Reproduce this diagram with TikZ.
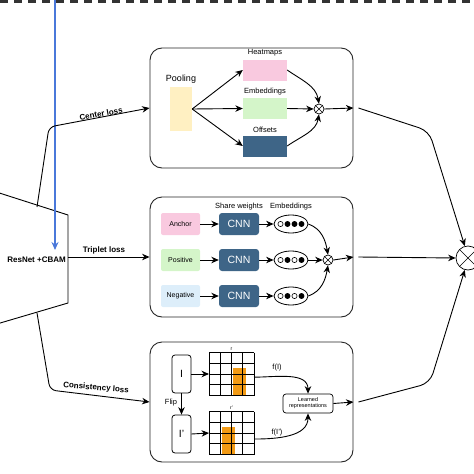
\documentclass[tikz,border=0pt]{standalone}
\usepackage{fontspec}
\setmainfont{Liberation Sans}
\usetikzlibrary{arrows.meta,calc,positioning,shapes.geometric}
\definecolor{inblue}{HTML}{4A78DA}
\definecolor{poolyellow}{HTML}{FFF0C2}
\definecolor{heatpink}{HTML}{F9C9DF}
\definecolor{embgreen}{HTML}{D4F5C9}
\definecolor{negblue}{HTML}{DDEEFA}
\definecolor{cnnblue}{HTML}{3E6587}
\definecolor{maporange}{HTML}{F29A14}
\tikzstyle{panel} = [draw=black!85, line width=0.9pt, rounded corners=12pt, minimum width=203pt, minimum height=120pt]
\tikzstyle{feat} = [inner sep=0, minimum width=44pt, minimum height=21pt]
\tikzstyle{inbox} = [inner sep=0, rounded corners=2pt, minimum width=39pt, minimum height=22pt, font=\fontsize{7}{8}\selectfont]
\tikzstyle{cnn} = [inner sep=0, rounded corners=3pt, fill=cnnblue, text=white, minimum width=40pt, minimum height=22pt, font=\fontsize{10.5}{11}\selectfont]
\tikzstyle{embell} = [ellipse, draw, line width=0.8pt, inner sep=0, minimum width=34pt, minimum height=18pt]
\tikzstyle{imgbox} = [draw, line width=0.8pt, rounded corners=3pt, inner sep=0, minimum width=19pt, minimum height=38pt, font=\fontsize{10.5}{11}\selectfont]
\tikzstyle{gridbox} = [inner sep=0, outer sep=0, minimum width=45pt, minimum height=43pt]
\tikzstyle{lrbox} = [draw, line width=0.7pt, rounded corners=3pt, inner sep=1pt, minimum width=50pt, minimum height=19pt, align=center, font=\fontsize{5.5}{6}\selectfont]
\tikzstyle{lbl} = [inner sep=0, font=\fontsize{7.5}{8}\selectfont]
\tikzstyle{losslbl} = [inner sep=0, font=\fontsize{8}{9}\selectfont\bfseries]
\tikzstyle{otimes} = [circle, draw, line width=0.7pt, inner sep=0, minimum size=10pt, path picture={\draw[line width=0.6pt] (path picture bounding box.north west)--(path picture bounding box.south east) (path picture bounding box.south west)--(path picture bounding box.north east);}]
\tikzstyle{arrow} = [line width=0.9pt,->,>={Stealth[length=7.5pt,width=6.5pt]}]

\begin{document}
\begin{tikzpicture}[x=1pt,y=-1pt]
\useasboundingbox (0,0) rectangle (474,474);
\clip (0,0) rectangle (474,474);
% dashed rule at the top
\draw[black!80, line width=3pt, dash pattern=on 8pt off 6pt] (0,1.5) -- (474,1.5);
% backbone
\draw[line width=0.9pt] (-10,190) -- (68,215) -- (68,303) -- (-10,326);
\node (resnet) [losslbl, anchor=east] at (66,260) {ResNet +CBAM};
\coordinate (in0) at (55,-2);
\coordinate (in1) at (55,250);
\draw[inblue, line width=1.3pt, ->, >={Stealth[length=8pt,width=7pt]}] (in0) -- (in1);
% three branches
\node (cbox) [panel] at (251.5,108) {};
\node (tbox) [panel] at (251.5,257) {};
\node (sbox) [panel] at (251.5,402) {};
\node (sum) [otimes, minimum size=24pt] at (468,258) {};

\coordinate (cl) at (37,207);
\coordinate (tl) at (68,257);
\coordinate (sl) at (37,313);
\draw[arrow, rounded corners=6pt] (cl) -- (49,127) -- (cbox.west);
\node (clbl) [losslbl, rotate=10] at (101,114) {Center loss};
\draw[arrow] (tl) -- (tbox.west);
\node (tlbl) [losslbl] at (104,250) {Triplet loss};
\draw[arrow, rounded corners=6pt] (sl) -- (50,390) -- (sbox.west);
\node (slbl) [losslbl, rotate=-5] at (96,388) {Consistency loss};

%% center loss
\node (pool) [fill=poolyellow, inner sep=0, minimum width=22pt, minimum height=44pt] at (181,109) {};
\node (poollbl) [lbl, font=\fontsize{9}{10}\selectfont, above=3pt of pool] {Pooling};
\node (heat) [feat, fill=heatpink] at (265,70) {};
\node (heatlbl) [lbl, above=3pt of heat] {Heatmaps};
\node (emb) [feat, fill=embgreen] at (265,108.5) {};
\node (emblbl) [lbl, above=3pt of emb] {Embeddings};
\node (off) [feat, fill=cnnblue] at (265,146) {};
\node (offlbl) [lbl, above=3pt of off] {Offsets};
\node (mul1) [otimes] at (319,109) {};
\draw[arrow] (pool.east) -- (heat.west);
\draw[arrow] (pool.east) -- (emb.west);
\draw[arrow] (pool.east) -- (off.west);
\draw[arrow] (heat.east) to[out=-35,in=100] (mul1.north);
\draw[arrow] (emb.east) -- (mul1.west);
\draw[arrow] (off.east) to[out=35,in=-100] (mul1.south);
\draw[arrow] (mul1.east) -- (cbox.east);

%% triplet loss
\node (anc) [inbox, fill=heatpink] at (180.5,224) {Anchor};
\node (pos) [inbox, fill=embgreen] at (180.5,260) {Positive};
\node (neg) [inbox, fill=negblue] at (180.5,296) {Negative};
\node (cnnA) [cnn] at (239,224) {CNN};
\node (cnnP) [cnn] at (239,260) {CNN};
\node (cnnN) [cnn] at (239,296) {CNN};
\node (eA) [embell] at (291,224) {};
\node (eP) [embell] at (291,260) {};
\node (eN) [embell] at (291,296) {};
\node (sharelbl) [lbl, above=2.5pt of cnnA] {Share weights};
\node (embtlbl) [lbl] at (eA |- sharelbl) {Embeddings};
\foreach \e/\a/\b/\c/\d in {eA/white/black/black/black, eP/white/black/white/black, eN/white/black/white/black}
  \foreach \f [count=\i] in {\a,\b,\c,\d}
    \draw[line width=0.6pt, fill=\f] ($(\e.center)+(\i*7-17.5,0)$) circle (2.6);
\node (mul2) [otimes] at (328,260) {};
\foreach \r in {A,P,N}
  \draw[arrow] (cnn\r.east) -- (e\r.west);
\draw[arrow] (anc) -- (cnnA);
\draw[arrow] (pos) -- (cnnP);
\draw[arrow] (neg) -- (cnnN);
\draw[arrow] (eA.east) to[out=-20,in=100] (mul2.north);
\draw[arrow] (eP.east) -- (mul2.west);
\draw[arrow] (eN.east) to[out=20,in=-100] (mul2.south);
\draw[arrow] (mul2.east) -- (tbox.east);

%% consistency loss
\node (img) [imgbox] at (181.5,374) {I};
\node (imgf) [imgbox] at (181.5,434) {I'};
\draw[arrow] (img) -- (imgf);
\node (fliplbl) [lbl] at (171,403) {Flip};
\node (g1) [gridbox] at (231.5,374) {};
\node (g2) [gridbox] at (231.5,433) {};
\fill[maporange] ($(g1.north west)+(24,15)$) rectangle ($(g1.south west)+(37,-1)$);
\fill[maporange] ($(g2.north west)+(13,15)$) rectangle ($(g2.south west)+(26,0)$);
\foreach \g in {g1,g2}
  \foreach \k in {0,...,4} {
    \draw[line width=0.9pt] (\g.north west) ++(\k*11.25,0) -- ++(0,43);
    \draw[line width=0.9pt] (\g.north west) ++(0,\k*10.75) -- ++(45,0);
  }
\node (r1) [lbl, font=\fontsize{5}{6}\selectfont, above=2pt of g1] {r};
\node (r2) [lbl, font=\fontsize{5}{6}\selectfont, above=2pt of g2] {r'};
\draw[arrow] (img.east) -- (g1.west);
\draw[arrow] (imgf.east) -- (g2.west);
\node (lr) [lrbox] at (308,403.5) {Learned\\representations};
\draw[arrow] (g1.-8) to[out=0,in=90] (lr.north);
\draw[arrow] (g2.-15) to[out=0,in=-90] (lr.south);
\node (fI) [lbl] at (277,368) {f(I)};
\node (fIf) [lbl] at (277,433) {f(I')};
\draw[arrow] (lr.east) -- (sbox.east);

%% merge
\draw[arrow, rounded corners=10pt] ([xshift=5pt]cbox.east) -- (429,131) -- (sum.105);
\draw[arrow] ([xshift=5pt]tbox.east) -- (sum.west);
\draw[arrow, rounded corners=10pt] ([xshift=5pt]sbox.east) -- (430,383) -- (sum.-105);
\end{tikzpicture}
\end{document}
